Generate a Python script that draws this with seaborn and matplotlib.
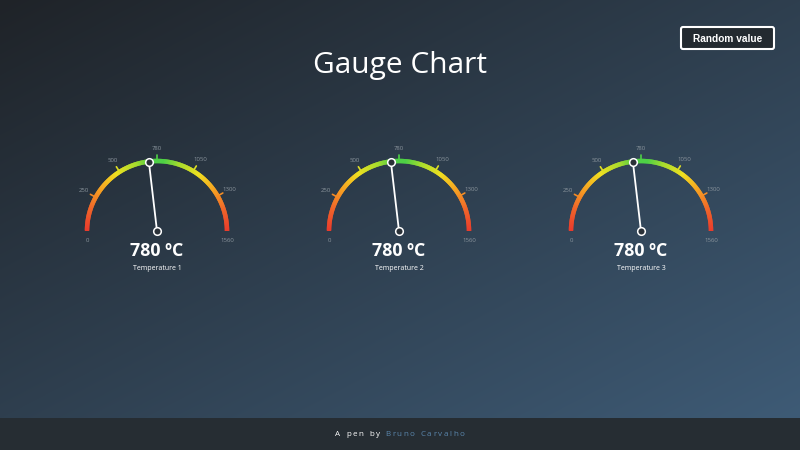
import matplotlib
matplotlib.use("Agg")
import numpy as np
import pandas as pd
import seaborn as sns
import matplotlib.pyplot as plt
from matplotlib.collections import LineCollection
from matplotlib.colors import LinearSegmentedColormap, to_rgb
from matplotlib.patches import FancyBboxPatch

sns.set_theme(style="white")
plt.rcParams["font.family"] = ["Open Sans", "DejaVu Sans"]

# gauge data
gauge_names = ["Temperature 1", "Temperature 2", "Temperature 3"]
gauge_values = [780, 780, 780]
needle_values = [722, 722, 722]  # needle is drawn a bit behind the readout
tick_values = [0, 250, 500, 780, 1050, 1300, 1560]
gauge_max = 1560
unit = "ºC"

fig = plt.figure(figsize=(8, 4.5), dpi=100)
ax = fig.add_axes([0, 0, 1, 1])
ax.set_xlim(0, 800)
ax.set_ylim(450, 0)
ax.axis("off")

# diagonal background gradient
c0 = np.array(to_rgb("#1f2328"))
c1 = np.array(to_rgb("#3e5b76"))
yy, xx = np.mgrid[0:450, 0:800]
t = np.clip((xx / 800 + yy / 418) / 2, 0, 1)[..., None]
bg = c0 * (1 - t) + c1 * t
ax.imshow(bg, extent=(0, 800, 450, 0), aspect="auto", zorder=0)
ax.axhspan(418, 450, color="#262d33", zorder=1, lw=0)

cmap = LinearSegmentedColormap.from_list("gauge", [
    (0.0, "#ea3b2c"), (0.1, "#f0662a"), (0.2, "#f7a222"), (0.3, "#f0e020"),
    (0.4, "#a6dc2e"), (0.47, "#4ed046"), (0.53, "#4ed046"), (0.6, "#a6dc2e"),
    (0.7, "#f0e020"), (0.8, "#f7a222"), (0.9, "#f0662a"), (1.0, "#ea3b2c")])

centers = [157, 399, 641]
cy = 231
r = 70


def polar(cx, v, rad):
    th = np.pi * (1 - np.asarray(v) / gauge_max)
    return cx + rad * np.cos(th), cy - rad * np.sin(th)


for cx, name, val, nv in zip(centers, gauge_names, gauge_values, needle_values):
    vs = np.linspace(0, gauge_max, 240)
    x, y = polar(cx, vs, r)
    pts = np.column_stack([x, y])
    # overlapping segments so no seams show between them
    segs = [pts[i:min(i + 3, len(pts))] for i in range(len(pts) - 1)]
    lc = LineCollection(segs, colors=cmap(vs[:-1] / gauge_max), linewidths=3.2,
                        capstyle="butt", zorder=3)
    ax.add_collection(lc)

    for tv in tick_values:
        frac = tv / gauge_max
        if 0 < tv < gauge_max:
            x0, y0 = polar(cx, tv, r + 1)
            x1, y1 = polar(cx, tv, r + 6)
            ax.plot([x0, x1], [y0, y1], color=cmap(frac), lw=1.2, zorder=3)
            lx, ly = polar(cx, tv, r + 13)
        else:
            lx, ly = polar(cx, tv, r)
            ly += 10
        ax.text(lx, ly, str(tv), color="#8a949c", fontsize=4.3,
                ha="center", va="center", zorder=4)

    tx, ty = polar(cx, nv, r - 1)
    needle = pd.DataFrame({"x": [cx, tx], "y": [cy, ty]})
    sns.lineplot(data=needle, x="x", y="y", color="white", lw=1.3,
                 ax=ax, zorder=5, sort=False)
    sns.scatterplot(data=needle, x="x", y="y", s=30, color="#2a3138",
                    edgecolor="white", linewidth=1.1, ax=ax, zorder=6)

    ax.text(cx, 251, f"{val} {unit}", color="white", fontsize=12.8,
            fontweight="bold", ha="center", va="center", zorder=4)
    ax.text(cx, 268, name, color="white", fontsize=5, ha="center",
            va="center", zorder=4)

ax.text(400, 65, "Gauge Chart", color="white", fontsize=21.5,
        ha="center", va="center", zorder=4)

btn = FancyBboxPatch((681, 27), 93, 22, boxstyle="round,pad=0,rounding_size=2",
                     fc="#232a30", ec="white", lw=1.5, zorder=4)
ax.add_patch(btn)
ax.text(727.5, 38.5, "Random value", color="white", fontsize=7.3,
        fontweight="bold", family=["Liberation Sans", "DejaVu Sans"],
        ha="center", va="center", zorder=5)

# letter-spaced footer credit, laid out char by char with fixed tracking
footer = "A pen by Bruno Carvalho"
renderer = fig.canvas.get_renderer()
widths = []
for ch in footer:
    tt = ax.text(0, 0, ch if ch != " " else "n", fontsize=5.8)
    w = tt.get_window_extent(renderer).width
    if ch == " ":
        w *= 0.5
    widths.append(w)
    tt.remove()
tracking = 1.6
total = sum(widths) + tracking * (len(footer) - 1)
xpos = 400 - total / 2
for i, ch in enumerate(footer):
    col = "white" if i < 9 else "#5a86ad"
    ax.text(xpos, 434, ch, color=col, fontsize=5.8,
            ha="left", va="center", zorder=4)
    xpos += widths[i] + tracking

ax.set_xlim(0, 800)
ax.set_ylim(450, 0)
ax.set_xlabel("")
ax.set_ylabel("")
fig.savefig("out.png", dpi=100)
